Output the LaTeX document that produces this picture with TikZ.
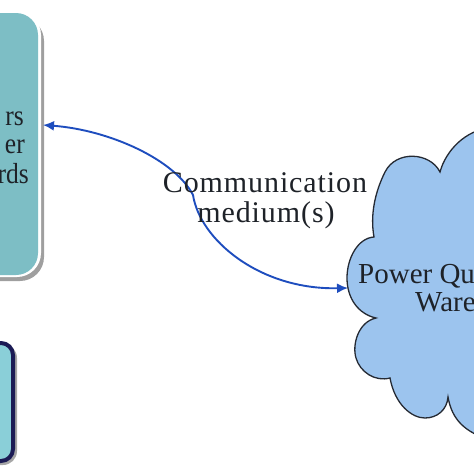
\documentclass[tikz,border=0pt]{standalone}
\usepackage{fontspec}
\setmainfont{Liberation Serif}
\newfontfamily\spacedserif{Liberation Serif}[LetterSpace=3]
\usetikzlibrary{arrows.meta}
\definecolor{tealfill}{HTML}{7DBEC5}
\definecolor{cyanfill}{HTML}{8ACFD8}
\definecolor{navy}{HTML}{1B1B55}
\definecolor{cloudfill}{HTML}{9CC4EE}
\definecolor{cloudline}{HTML}{252A33}
\definecolor{arrowblue}{HTML}{1E4DBE}
\definecolor{txtcol}{HTML}{1E2228}
\tikzset{
  txt/.style={inner sep=0pt, text=txtcol, font=\fontsize{29}{29}\selectfont},
  sidetxt/.style={inner sep=0pt, text=txtcol, font=\fontsize{29}{29}\selectfont},
  conn/.style={arrowblue, line width=1.9pt, {Latex[length=11pt,width=10pt]}-{Latex[length=11pt,width=10pt]}},
}
\begin{document}
\begin{tikzpicture}[x=1pt,y=-1pt]
\useasboundingbox (0,0) rectangle (474,474);
% left box
\fill[gray!75, rounded corners=24pt] (-40,17) rectangle (44,281);
\fill[white, rounded corners=24pt] (-40,11) rectangle (41,277);
\node[fill=tealfill, rounded corners=22pt, minimum width=80pt, minimum height=262pt, inner sep=0pt] (leftbox) at (-2,144) {};
\node[sidetxt, anchor=base east] (t1) at (24,125) {\scalebox{0.88}[1]{rs}};
\node[sidetxt, anchor=base east] (t2) at (25,153) {\scalebox{0.88}[1]{er}};
\node[sidetxt, anchor=base east] (t3) at (29,183) {\scalebox{0.88}[1]{rds}};
% bottom-left box
\fill[gray!70, rounded corners=14pt] (-40,344) rectangle (17,465);
\node[draw=navy, line width=4pt, fill=cyanfill, rounded corners=12pt, minimum width=52pt, minimum height=118pt, inner sep=0pt] (botbox) at (-13,402) {};
% cloud
\path[fill=cloudfill, draw=cloudline, line width=1.3pt]
  (490,128) .. controls (466,130) and (446,150) .. (440,172)
  .. controls (430,152) and (396,150) .. (385,172)
  .. controls (375,192) and (370,215) .. (374,237)
  .. controls (358,238) and (347,258) .. (347,278)
  .. controls (347,298) and (358,314) .. (376,318)
  .. controls (358,322) and (352,345) .. (356,358)
  .. controls (360,372) and (375,382) .. (390,378)
  .. controls (395,405) and (412,418) .. (425,418)
  .. controls (437,418) and (447,410) .. (448,397)
  .. controls (452,420) and (465,432) .. (490,440)
  -- cycle;
\node[txt, anchor=base west] (c1) at (358,283) {Power Qu};
\node[txt, anchor=base west] (c2) at (415,311) {Ware};
% connector
\coordinate (pa) at (43,125);
\coordinate (pb) at (348,288);
\draw[conn] (pa) .. controls (110,130) and (175,160) .. (193,195)
  .. controls (200,240) and (260,290) .. (pb);
% label
\node[inner sep=0pt, text=txtcol, font=\spacedserif\fontsize{30}{30}\selectfont, anchor=base] (l1) at (265,192) {Communication};
\node[inner sep=0pt, text=txtcol, font=\spacedserif\fontsize{30}{30}\selectfont, anchor=base] (l2) at (266,222) {medium(s)};
\end{tikzpicture}
\end{document}
